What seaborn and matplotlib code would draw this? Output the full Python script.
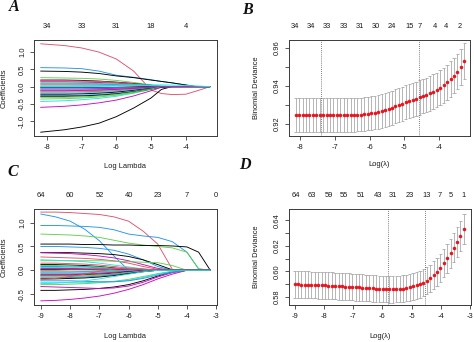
import matplotlib
matplotlib.use("Agg")
import matplotlib.pyplot as plt
import matplotlib.transforms as mtransforms
import numpy as np
import pandas as pd
import seaborn as sns

sns.set_theme(style="white")
plt.rcParams["font.family"] = ["Liberation Sans", "DejaVu Sans"]

BLK, PNK, GRN, BLU, CYN, MAG = "#000000", "#DF536B", "#61D04F", "#2297E6", "#28E2E5", "#CD0BBC"

# ---------------- Panel A: coefficient paths ----------------
loglam_A = [-8.18, -7.5, -7.0, -6.5, -6.0, -5.5, -5.0, -4.7, -4.4, -4.0, -3.7, -3.3]
coef_A = [
    [1.24, 1.19, 1.12, 1.00, 0.80, 0.45, -0.10, -0.20, -0.23, -0.22, -0.13, 0],
    [0.55, 0.54, 0.52, 0.45, 0.33, 0.27, 0.20, 0.15, 0.11, 0.04, 0, 0],
    [0.45, 0.44, 0.42, 0.38, 0.31, 0.26, 0.19, 0.15, 0.11, 0.05, 0, 0],
    [-1.32, -1.25, -1.17, -1.06, -0.87, -0.62, -0.33, -0.08, 0, 0, 0, 0],
    [-0.60, -0.57, -0.53, -0.47, -0.39, -0.27, -0.12, -0.02, 0, 0, 0, 0],
    [-0.43, -0.41, -0.38, -0.34, -0.28, -0.19, -0.08, 0, 0, 0, 0, 0],
    [-0.36, -0.35, -0.33, -0.30, -0.25, -0.18, -0.08, 0, 0, 0, 0, 0],
    [0.26, 0.25, 0.24, 0.22, 0.18, 0.12, 0.05, 0.01, 0, 0, 0, 0],
    [0.19, 0.19, 0.18, 0.16, 0.13, 0.09, 0.04, 0, 0, 0, 0, 0],
    [0.17, 0.17, 0.16, 0.15, 0.12, 0.08, 0.03, 0, 0, 0, 0, 0],
    [0.14, 0.14, 0.13, 0.12, 0.10, 0.06, 0.02, 0, 0, 0, 0, 0],
    [0.11, 0.11, 0.10, 0.09, 0.08, 0.05, 0.02, 0, 0, 0, 0, 0],
    [0.08, 0.08, 0.08, 0.07, 0.06, 0.04, 0.01, 0, 0, 0, 0, 0],
    [0.05, 0.05, 0.05, 0.04, 0.03, 0.02, 0.01, 0, 0, 0, 0, 0],
    [-0.02, -0.02, -0.02, -0.02, -0.02, -0.01, 0, 0, 0, 0, 0, 0],
    [-0.04, -0.04, -0.04, -0.04, -0.03, -0.03, -0.01, 0, 0, 0, 0, 0],
    [-0.07, -0.07, -0.07, -0.06, -0.05, -0.04, -0.02, 0, 0, 0, 0, 0],
    [-0.10, -0.10, -0.10, -0.09, -0.08, -0.06, -0.03, 0, 0, 0, 0, 0],
    [-0.13, -0.13, -0.12, -0.11, -0.10, -0.08, -0.04, -0.01, 0, 0, 0, 0],
    [-0.16, -0.16, -0.15, -0.14, -0.12, -0.09, -0.05, -0.01, 0, 0, 0, 0],
    [-0.19, -0.19, -0.18, -0.16, -0.14, -0.10, -0.05, -0.01, 0, 0, 0, 0],
    [-0.22, -0.22, -0.21, -0.19, -0.16, -0.11, -0.05, -0.01, 0, 0, 0, 0],
    [-0.26, -0.26, -0.25, -0.23, -0.19, -0.13, -0.06, -0.01, 0, 0, 0, 0],
    [-0.28, -0.28, -0.27, -0.25, -0.21, -0.15, -0.07, -0.01, 0, 0, 0, 0],
    [-0.31, -0.31, -0.30, -0.27, -0.23, -0.16, -0.07, 0, 0, 0, 0, 0],
    [0.00, 0.00, 0.00, 0.01, 0.02, 0.03, 0.03, 0.02, 0.01, 0, 0, 0],
    [-0.12, -0.12, -0.11, -0.10, -0.08, -0.05, -0.02, 0, 0, 0, 0, 0],
    [0.02, 0.02, 0.03, 0.03, 0.04, 0.05, 0.05, 0.05, 0.045, 0.035, 0.02, 0],
]
color_A = [PNK, BLU, BLK, BLK, MAG, CYN, GRN, GRN, BLK, PNK, MAG, GRN, BLU, PNK,
           BLK, BLU, MAG, BLU, GRN, PNK, CYN, BLK, BLU, BLK, GRN, CYN, MAG, CYN]
top_pos_A = [-8, -7, -6, -5, -4]
top_lab_A = ["34", "33", "31", "18", "4"]

# ---------------- Panel C: coefficient paths ----------------
loglam_C = [-9.01, -8.5, -8.0, -7.5, -7.0, -6.5, -6.0, -5.5, -5.0, -4.5, -4.0, -3.6, -3.2]
coef_C = [
    [1.22, 1.22, 1.21, 1.19, 1.17, 1.12, 1.03, 0.82, 0.55, 0.02, 0, 0, 0],
    [1.18, 1.12, 1.03, 0.86, 0.62, 0.30, 0.0, 0, 0, 0, 0, 0, 0],
    [0.94, 0.94, 0.93, 0.92, 0.90, 0.85, 0.76, 0.72, 0.69, 0.60, 0.38, 0.03, 0],
    [0.76, 0.75, 0.74, 0.72, 0.69, 0.63, 0.57, 0.53, 0.50, 0.47, 0.38, 0.03, 0],
    [0.55, 0.55, 0.55, 0.54, 0.54, 0.53, 0.53, 0.52, 0.52, 0.51, 0.49, 0.38, 0],
    [0.50, 0.50, 0.49, 0.48, 0.46, 0.42, 0.34, 0.22, 0.08, 0, 0, 0, 0],
    [0.37, 0.37, 0.37, 0.36, 0.35, 0.33, 0.29, 0.22, 0.12, 0.01, 0, 0, 0],
    [0.37, 0.36, 0.35, 0.33, 0.30, 0.26, 0.20, 0.12, 0.04, 0, 0, 0, 0],
    [0.28, 0.27, 0.26, 0.25, 0.23, 0.20, 0.15, 0.08, 0.02, 0, 0, 0, 0],
    [0.20, 0.20, 0.20, 0.20, 0.20, 0.19, 0.18, 0.17, 0.16, 0.10, 0, 0, 0],
    [0.22, 0.21, 0.20, 0.18, 0.15, 0.11, 0.07, 0.03, 0, 0, 0, 0, 0],
    [-0.64, -0.63, -0.61, -0.58, -0.54, -0.48, -0.40, -0.30, -0.18, -0.08, 0, 0, 0],
    [-0.42, -0.42, -0.41, -0.40, -0.38, -0.35, -0.30, -0.22, -0.12, -0.03, 0, 0, 0],
    [-0.34, -0.35, -0.36, -0.37, -0.38, -0.37, -0.33, -0.25, -0.14, -0.05, 0, 0, 0],
    [-0.30, -0.30, -0.29, -0.28, -0.26, -0.23, -0.19, -0.13, -0.07, -0.02, 0, 0, 0],
    [-0.26, -0.26, -0.26, -0.26, -0.25, -0.24, -0.21, -0.15, -0.08, -0.02, 0, 0, 0],
    [-0.22, -0.22, -0.22, -0.23, -0.24, -0.24, -0.22, -0.17, -0.10, -0.04, 0, 0, 0],
    [0.15, 0.15, 0.14, 0.13, 0.11, 0.08, 0.04, 0.01, 0, 0, 0, 0, 0],
    [0.12, 0.12, 0.11, 0.10, 0.08, 0.05, 0.02, 0, 0, 0, 0, 0, 0],
    [0.10, 0.10, 0.09, 0.08, 0.07, 0.04, 0.02, 0, 0, 0, 0, 0, 0],
    [0.08, 0.08, 0.07, 0.07, 0.05, 0.03, 0.01, 0, 0, 0, 0, 0, 0],
    [0.06, 0.06, 0.05, 0.05, 0.04, 0.02, 0.01, 0, 0, 0, 0, 0, 0],
    [0.04, 0.04, 0.04, 0.03, 0.03, 0.02, 0.01, 0, 0, 0, 0, 0, 0],
    [0.02, 0.02, 0.02, 0.02, 0.01, 0.01, 0, 0, 0, 0, 0, 0, 0],
    [0.00, 0.00, 0.01, 0.01, 0.01, 0.01, 0, 0, 0, 0, 0, 0, 0],
    [-0.02, -0.02, -0.02, -0.02, -0.01, -0.01, 0, 0, 0, 0, 0, 0, 0],
    [-0.04, -0.04, -0.04, -0.03, -0.03, -0.02, -0.01, 0, 0, 0, 0, 0, 0],
    [-0.06, -0.06, -0.06, -0.05, -0.04, -0.03, -0.01, 0, 0, 0, 0, 0, 0],
    [-0.08, -0.08, -0.08, -0.07, -0.06, -0.04, -0.02, 0, 0, 0, 0, 0, 0],
    [-0.10, -0.10, -0.10, -0.09, -0.08, -0.06, -0.03, -0.01, 0, 0, 0, 0, 0],
    [-0.12, -0.12, -0.11, -0.10, -0.09, -0.07, -0.04, -0.01, 0, 0, 0, 0, 0],
    [-0.14, -0.14, -0.13, -0.12, -0.10, -0.08, -0.05, -0.02, 0, 0, 0, 0, 0],
    [-0.16, -0.16, -0.15, -0.14, -0.12, -0.09, -0.06, -0.02, 0, 0, 0, 0, 0],
    [-0.18, -0.18, -0.17, -0.16, -0.14, -0.11, -0.07, -0.03, 0, 0, 0, 0, 0],
    [-0.20, -0.17, -0.13, -0.08, -0.02, 0.03, 0.05, 0.03, 0, 0, 0, 0, 0],
    [-0.28, -0.27, -0.25, -0.22, -0.18, -0.13, -0.08, -0.03, 0, 0, 0, 0, 0],
]
color_C = [PNK, BLU, BLU, GRN, BLK, BLU, BLK, MAG, PNK, GRN, CYN, MAG,
           BLK, MAG, GRN, CYN, BLU, PNK, BLK, GRN, BLU, CYN, MAG, BLK,
           PNK, GRN, BLU, CYN, MAG, BLK, PNK, GRN, BLU, BLK, PNK, CYN]
top_pos_C = [-9, -8, -7, -6, -5, -4, -3]
top_lab_C = ["64", "60", "52", "40", "23", "7", "0"]

# ---------------- Panel B: cross-validation ----------------
loglam_B = [-8.13, -8.03, -7.93, -7.83, -7.73, -7.63, -7.53, -7.43, -7.34, -7.24,
            -7.14, -7.04, -6.94, -6.84, -6.74, -6.64, -6.54, -6.44, -6.35, -6.25,
            -6.15, -6.05, -5.95, -5.85, -5.75, -5.65, -5.55, -5.45, -5.36, -5.26,
            -5.16, -5.06, -4.96, -4.86, -4.76, -4.66, -4.56, -4.46, -4.37, -4.27,
            -4.17, -4.07, -3.97, -3.87, -3.77, -3.67, -3.57, -3.47, -3.37, -3.27]
dev_B = [0.9247, 0.9247, 0.9247, 0.9247, 0.9247, 0.9247, 0.9247, 0.9247, 0.9247, 0.9247,
         0.9247, 0.9247, 0.9247, 0.9247, 0.9247, 0.9247, 0.9247, 0.9248, 0.9249, 0.9250,
         0.9252, 0.9254, 0.9257, 0.9260, 0.9264, 0.9269, 0.9274, 0.9280, 0.9286, 0.9293,
         0.9300, 0.9307, 0.9314, 0.9320, 0.9327, 0.9333, 0.9340, 0.9347, 0.9354, 0.9362,
         0.9370, 0.9380, 0.9391, 0.9404, 0.9419, 0.9436, 0.9455, 0.9476, 0.9502, 0.9530]
se_B = [0.0088, 0.0088, 0.0088, 0.0088, 0.0088, 0.0088, 0.0088, 0.0088, 0.0088, 0.0088,
        0.0088, 0.0088, 0.0088, 0.0088, 0.0088, 0.0088, 0.0088, 0.0088, 0.0088, 0.0088,
        0.0088, 0.0088, 0.0088, 0.0088, 0.0088, 0.0088, 0.0088, 0.0088, 0.0089, 0.0089,
        0.0089, 0.0089, 0.0089, 0.0089, 0.0090, 0.0090, 0.0090, 0.0090, 0.0090, 0.0091,
        0.0091, 0.0091, 0.0092, 0.0092, 0.0093, 0.0093, 0.0094, 0.0094, 0.0095, 0.0095]
vlines_B = [-7.39, -4.57]
top_pos_B = [-8.14, -7.68, -7.22, -6.73, -6.27, -5.81, -5.35, -4.86, -4.57, -4.12, -3.80, -3.40]
top_lab_B = ["34", "34", "33", "33", "31", "30", "24", "15", "7", "4", "4", "2"]

# ---------------- Panel D: cross-validation ----------------
loglam_D = [-9.01, -8.89, -8.78, -8.66, -8.55, -8.43, -8.31, -8.20, -8.08, -7.97,
            -7.85, -7.73, -7.62, -7.50, -7.39, -7.27, -7.15, -7.04, -6.92, -6.81,
            -6.69, -6.57, -6.46, -6.34, -6.23, -6.11, -5.99, -5.88, -5.76, -5.65,
            -5.53, -5.41, -5.30, -5.18, -5.07, -4.95, -4.83, -4.72, -4.60, -4.49,
            -4.37, -4.25, -4.14, -4.02, -3.91, -3.79, -3.67, -3.56, -3.44, -3.33, -3.21]
dev_D = [0.5897, 0.5897, 0.5896, 0.5895, 0.5894, 0.5893, 0.5892, 0.5891, 0.5890, 0.5889,
         0.5887, 0.5886, 0.5885, 0.5883, 0.5882, 0.5880, 0.5878, 0.5877, 0.5875, 0.5873,
         0.5871, 0.5869, 0.5867, 0.5865, 0.5863, 0.5861, 0.5860, 0.5859, 0.5858, 0.5858,
         0.5859, 0.5861, 0.5864, 0.5868, 0.5874, 0.5881, 0.5889, 0.5899, 0.5911, 0.5926,
         0.5945, 0.5968, 0.5996, 0.6028, 0.6064, 0.6102, 0.6142, 0.6184, 0.6228, 0.6278, 0.6335]
se_D = [0.0105, 0.0105, 0.0105, 0.0105, 0.0105, 0.0105, 0.0105, 0.0105, 0.0105, 0.0105,
        0.0105, 0.0105, 0.0105, 0.0105, 0.0105, 0.0105, 0.0105, 0.0105, 0.0105, 0.0105,
        0.0105, 0.0104, 0.0104, 0.0104, 0.0104, 0.0104, 0.0104, 0.0104, 0.0104, 0.0104,
        0.0104, 0.0104, 0.0104, 0.0105, 0.0105, 0.0105, 0.0106, 0.0106, 0.0107, 0.0107,
        0.0108, 0.0109, 0.0110, 0.0111, 0.0112, 0.0113, 0.0114, 0.0115, 0.0116, 0.0117, 0.0118]
vlines_D = [-5.81, -4.53]
top_pos_D = [-8.98, -8.42, -7.85, -7.31, -6.74, -6.17, -5.63, -5.07, -4.50, -4.05, -3.67, -3.24]
top_lab_D = ["64", "63", "59", "55", "51", "43", "31", "23", "13", "7", "5", "1"]

# ---------------- figure ----------------
W, H = 474, 342
fig = plt.figure(figsize=(W / 100, H / 100), dpi=100)
fig.patch.set_facecolor("white")

def px_axes(l, t, r, b):
    return fig.add_axes([l / W, 1 - b / H, (r - l) / W, (b - t) / H])

FS = 5.4
TXT = "#1a1a1a"
EDGE = "#3a3a3a"

def style(ax, xlim, ylim, xticks, yticks, ylabels, xlabel, ylabel, top_pos, top_lab, xl_off, yl_off):
    ax.set_xlim(*xlim)
    ax.set_ylim(*ylim)
    ax.set_facecolor("white")
    for s in ax.spines.values():
        s.set_visible(True)
        s.set_color(EDGE)
        s.set_linewidth(0.7)
    ax.set_xticks(xticks)
    ax.set_xticklabels(["%g" % v for v in xticks])
    ax.set_yticks(yticks)
    ax.set_yticklabels(ylabels, rotation=90, va="center")
    ax.tick_params(axis="both", which="both", bottom=True, left=True, top=False, right=False,
                   direction="out", length=3.2, width=0.6, color=EDGE,
                   labelsize=FS, labelcolor=TXT, pad=2.6)
    ax.set_xlabel("")
    ax.set_ylabel("")
    ax.grid(False)
    hpx = ax.get_position().height * H
    wpx = ax.get_position().width * W
    ax.text(0.5, -xl_off / hpx, xlabel, transform=ax.transAxes, ha="center", va="center",
            fontsize=FS, color=TXT)
    ax.text(-yl_off / wpx, 0.5, ylabel, transform=ax.transAxes, ha="center", va="center",
            rotation=90, fontsize=FS, color=TXT)
    trans = mtransforms.blended_transform_factory(ax.transData, ax.transAxes)
    for p, lab in zip(top_pos, top_lab):
        ax.text(p, 1 + 13.5 / hpx, lab, transform=trans, ha="center", va="center",
                fontsize=FS, color=TXT, clip_on=False)

def draw_paths(ax, xs, coefs, colors):
    rows = []
    for i, c in enumerate(coefs):
        for x, v in zip(xs, c):
            rows.append({"loglam": x, "coef": v, "var": f"v{i}"})
    df = pd.DataFrame(rows)
    pal = {f"v{i}": colors[i] for i in range(len(coefs))}
    sns.lineplot(data=df, x="loglam", y="coef", hue="var", palette=pal,
                 hue_order=[f"v{i}" for i in range(len(coefs))],
                 estimator=None, sort=False, legend=False, linewidth=0.65, ax=ax)

def draw_cv(ax, xs, dev, se, vlines):
    xs = np.asarray(xs); dev = np.asarray(dev); se = np.asarray(se)
    up, lo = dev + se, dev - se
    barw = (xs.max() - xs.min()) * 0.01
    ax.vlines(xs, lo, up, color="#A9A9A9", linewidth=0.6)
    ax.hlines(up, xs - barw, xs + barw, color="#A9A9A9", linewidth=0.6)
    ax.hlines(lo, xs - barw, xs + barw, color="#A9A9A9", linewidth=0.6)
    for v in vlines:
        ax.axvline(v, color="#555555", linestyle=(0, (1, 1.5)), linewidth=0.6)
    df = pd.DataFrame({"loglam": xs, "dev": dev})
    sns.scatterplot(data=df, x="loglam", y="dev", color="#E8141E", s=6.5, linewidth=0,
                    ax=ax, legend=False, zorder=3)

# Panel A
axA = px_axes(34, 40, 217, 136)
draw_paths(axA, loglam_A, coef_A, color_A)
style(axA, (-8.37, -3.1), (-1.43, 1.35), [-8, -7, -6, -5, -4], [-1.0, -0.5, 0.0, 0.5, 1.0],
      ["-1.0", "-0.5", "0.0", "0.5", "1.0"], "Log Lambda", "Coefficients",
      top_pos_A, top_lab_A, 31, 30)

# Panel B
axB = px_axes(289, 40, 470, 136)
draw_cv(axB, loglam_B, dev_B, se_B, vlines_B)
style(axB, (-8.32, -3.11), (0.9137, 0.9642), [-8, -7, -6, -5, -4],
      [0.92, 0.93, 0.94, 0.95, 0.96], ["0.92", "", "0.94", "", "0.96"],
      "Log(\u03bb)", "Binomial Deviance", top_pos_B, top_lab_B, 29, 32)

# Panel C
axC = px_axes(34, 209, 217, 305)
draw_paths(axC, loglam_C, coef_C, color_C)
style(axC, (-9.24, -2.97), (-0.727, 1.285), [-9, -8, -7, -6, -5, -4, -3],
      [-0.5, 0.0, 0.5, 1.0], ["-0.5", "0.0", "0.5", "1.0"], "Log Lambda", "Coefficients",
      top_pos_C, top_lab_C, 31, 30)

# Panel D
axD = px_axes(289, 209, 471, 305)
draw_cv(axD, loglam_D, dev_D, se_D, vlines_D)
style(axD, (-9.2, -2.97), (0.5735, 0.6489), [-9, -8, -7, -6, -5, -4, -3],
      [0.58, 0.59, 0.60, 0.61, 0.62, 0.63, 0.64],
      ["0.58", "", "0.60", "", "0.62", "", "0.64"],
      "Log(\u03bb)", "Binomial Deviance", top_pos_D, top_lab_D, 31, 32)

# Panel letters
for lab, x, y in [("A", 14, 7), ("B", 247, 10), ("C", 13, 172), ("D", 245, 165)]:
    fig.text(x / W, 1 - y / H, lab, ha="center", va="center", fontsize=11.5,
             family=["Liberation Serif", "DejaVu Serif"], style="italic", weight="bold",
             color="#111111")

fig.savefig("out.png", dpi=100, facecolor="white")
